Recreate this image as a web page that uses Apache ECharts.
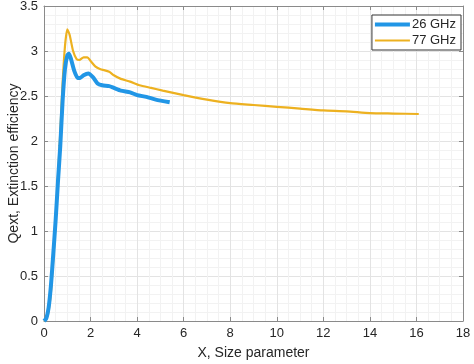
<!DOCTYPE html>
<html><head><meta charset="utf-8">
<script src="https://cdn.jsdelivr.net/npm/echarts@6/dist/echarts.min.js"></script>
<style>html,body{margin:0;padding:0;background:#fff}#c{width:474px;height:364px}</style>
</head><body><div id="c"></div>
<script>
const seriesNames = ['26 GHz', '77 GHz'];
const x26 = [0,0.1,0.2,0.3,0.4,0.5,0.6,0.7,0.8,0.9,1.0,1.07,1.15,1.3,1.45,1.55,1.7,1.9,2.1,2.3,2.5,2.8,3.0,3.3,3.7,4.0,4.4,4.8,5.4];
const y26 = [0,0.03,0.15,0.4,0.75,1.12,1.55,1.95,2.45,2.8,2.95,2.97,2.92,2.78,2.70,2.70,2.73,2.75,2.71,2.64,2.62,2.61,2.59,2.56,2.54,2.51,2.49,2.46,2.43];
const x77 = [0,0.1,0.2,0.3,0.4,0.5,0.6,0.7,0.8,0.9,1.0,1.1,1.25,1.4,1.52,1.7,1.86,2.0,2.2,2.4,2.8,3.0,3.3,3.7,4.1,4.6,5.1,6.0,7,8,9,10,11,12,13,14,15,16.1];
const y77 = [0,0.02,0.12,0.33,0.7,1.1,1.6,2.1,2.65,3.05,3.24,3.18,3.0,2.91,2.90,2.93,2.93,2.89,2.83,2.80,2.77,2.73,2.69,2.66,2.62,2.59,2.56,2.51,2.46,2.42,2.40,2.38,2.36,2.34,2.33,2.31,2.305,2.30];
const xTicks = [0,2,4,6,8,10,12,14,16,18];
const yTicks = [0,0.5,1,1.5,2,2.5,3,3.5];

const pair = (xs, ys) => xs.map((v, i) => [v, ys[i]]);
const axisColor = '#8a8a8a';
const textColor = '#262626';
const font = 'Liberation Sans, Arial, sans-serif';
const blue = '#2196e6';
const orange = '#EDB120';

const chart = echarts.init(document.getElementById('c'), null, {renderer: 'canvas'});
chart.setOption({
  animation: false,
  backgroundColor: '#fff',
  grid: {left: 44, right: 11, top: 6, bottom: 43, containLabel: false, outerBoundsMode: 'none'},
  legend: {
    data: [
      {name: seriesNames[0], icon: 'path://M0,0h35v4h-35z', itemStyle: {color: blue}},
      {name: seriesNames[1], icon: 'path://M0,0h35v2h-35z', itemStyle: {color: orange}}
    ],
    orient: 'vertical',
    right: 13, top: 15,
    backgroundColor: '#fff',
    borderColor: '#333', borderWidth: 1, borderRadius: 0,
    padding: [3, 5, 3, 3],
    itemGap: 3, itemWidth: 35, itemHeight: 4,
    textStyle: {fontFamily: font, fontSize: 13, color: textColor, padding: [0,0,0,-3]}
  },
  xAxis: [{
    type: 'value', min: 0, max: 18, interval: 2,
    name: 'X, Size parameter', nameLocation: 'middle', nameGap: 25, nameMoveOverlap: false,
    nameTextStyle: {fontFamily: font, fontSize: 14, color: textColor},
    axisLine: {onZero: false, lineStyle: {color: axisColor, width: 1}},
    axisTick: {inside: true, length: 4, lineStyle: {color: axisColor}},
    axisLabel: {fontFamily: font, fontSize: 13, color: textColor, margin: 6},
    splitLine: {show: true, lineStyle: {color: '#e3e3e3', width: 1}},
    minorTick: {show: false, splitNumber: 4},
    minorSplitLine: {show: true, lineStyle: {color: '#f2f2f2', width: 1}}
  }, {
    type: 'value', min: 0, max: 18, interval: 2, position: 'top',
    axisLine: {onZero: false, lineStyle: {color: axisColor, width: 1}},
    axisTick: {inside: true, length: 4, lineStyle: {color: axisColor}},
    axisLabel: {show: false}, splitLine: {show: false}
  }],
  yAxis: [{
    type: 'value', min: 0, max: 3.5, interval: 0.5,
    name: 'Qext, Extinction efficiency', nameLocation: 'middle', nameGap: 23, nameMoveOverlap: false,
    nameTextStyle: {fontFamily: font, fontSize: 14, color: textColor},
    axisLine: {show: true, onZero: false, lineStyle: {color: axisColor, width: 1}},
    axisTick: {show: true, inside: true, length: 4, lineStyle: {color: axisColor}},
    axisLabel: {fontFamily: font, fontSize: 13, color: textColor, margin: 6,
      formatter: v => String(v)},
    splitLine: {show: true, lineStyle: {color: '#e3e3e3', width: 1}},
    minorTick: {show: false, splitNumber: 5},
    minorSplitLine: {show: true, lineStyle: {color: '#f2f2f2', width: 1}}
  }, {
    type: 'value', min: 0, max: 3.5, interval: 0.5, position: 'right',
    axisLine: {show: true, onZero: false, lineStyle: {color: axisColor, width: 1}},
    axisTick: {show: true, inside: true, length: 4, lineStyle: {color: axisColor}},
    axisLabel: {show: false}, splitLine: {show: false}
  }],
  series: [{
    name: seriesNames[0], type: 'line', data: pair(x26, y26),
    showSymbol: false, symbol: 'none', smooth: 0.2,
    lineStyle: {color: blue, width: 4},
    itemStyle: {color: blue}, z: 3
  }, {
    name: seriesNames[1], type: 'line', data: pair(x77, y77),
    showSymbol: false, symbol: 'none', smooth: 0.2,
    lineStyle: {color: orange, width: 2.2},
    itemStyle: {color: orange}, z: 2
  }]
});
</script></body></html>
